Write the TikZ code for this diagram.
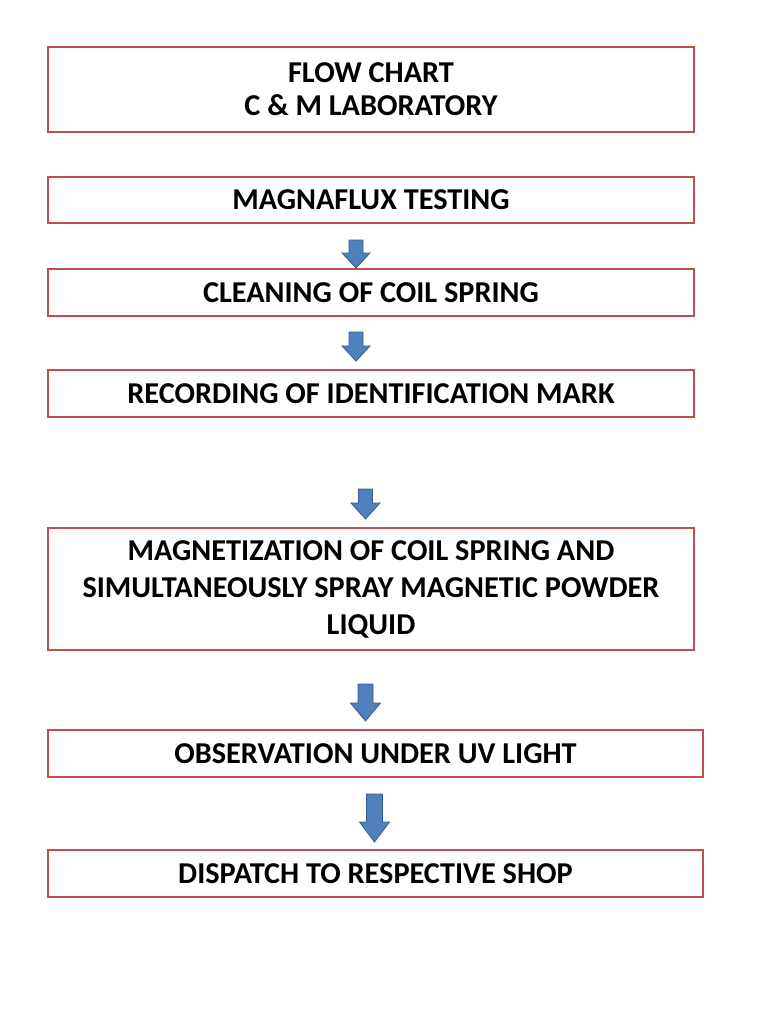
\documentclass[tikz,border=0pt]{standalone}
\usepackage{fontspec}
\setmainfont{Carlito}
\definecolor{boxred}{RGB}{192,80,77}
\definecolor{arrfill}{RGB}{79,129,189}
\definecolor{arrline}{RGB}{56,93,138}
\begin{document}
\begin{tikzpicture}[x=1pt,y=-1pt,
  stepbox/.style={draw=boxred,line width=2pt,anchor=north west,inner sep=0pt,
    align=center,font=\fontsize{30.3}{33}\bfseries\selectfont},
  blockarr/.style={fill=arrfill,draw=arrline,line width=0.8pt,line join=miter}]
\useasboundingbox[fill=white] (0,0) rectangle (768,1024);
\node[stepbox,minimum width=646pt,minimum height=85pt] (b1) at (47,46) {FLOW CHART\\C \& M LABORATORY};
\node[stepbox,minimum width=646pt,minimum height=46pt] (b2) at (47,176) {MAGNAFLUX TESTING};
\node[stepbox,minimum width=646pt,minimum height=47pt] (b3) at (47,268) {CLEANING OF COIL SPRING};
\node[stepbox,minimum width=646pt,minimum height=47pt] (b4) at (47,369) {RECORDING OF IDENTIFICATION MARK};
\node[stepbox,minimum width=646pt,minimum height=122pt,font=\fontsize{30.3}{37}\bfseries\selectfont] (b5) at (47,527) {MAGNETIZATION OF COIL SPRING AND\\SIMULTANEOUSLY SPRAY MAGNETIC POWDER\\LIQUID};
\node[stepbox,minimum width=655pt,minimum height=47pt] (b6) at (47,729) {OBSERVATION UNDER UV LIGHT};
\node[stepbox,minimum width=655pt,minimum height=47pt] (b7) at (47,849) {DISPATCH TO RESPECTIVE SHOP};
% block arrows: #1 x centre, #2 top, #3 head start, #4 tip, #5 half shaft, #6 half head
\newcommand\blockarrow[6]{%
  \draw[blockarr] (#1-#5,#2) -- (#1+#5,#2) -- (#1+#5,#3) -- (#1+#6,#3) -- (#1,#4)
    -- (#1-#6,#3) -- (#1-#5,#3) -- cycle;}
\blockarrow{356}{240}{253}{268}{7}{14}
\blockarrow{356}{332}{346}{361}{7}{14}
\blockarrow{365.5}{489}{503}{519}{7}{14.5}
\blockarrow{365.5}{684}{703}{721}{7.5}{15}
\blockarrow{374.5}{794}{822}{842}{8}{15}
\end{tikzpicture}
\end{document}
